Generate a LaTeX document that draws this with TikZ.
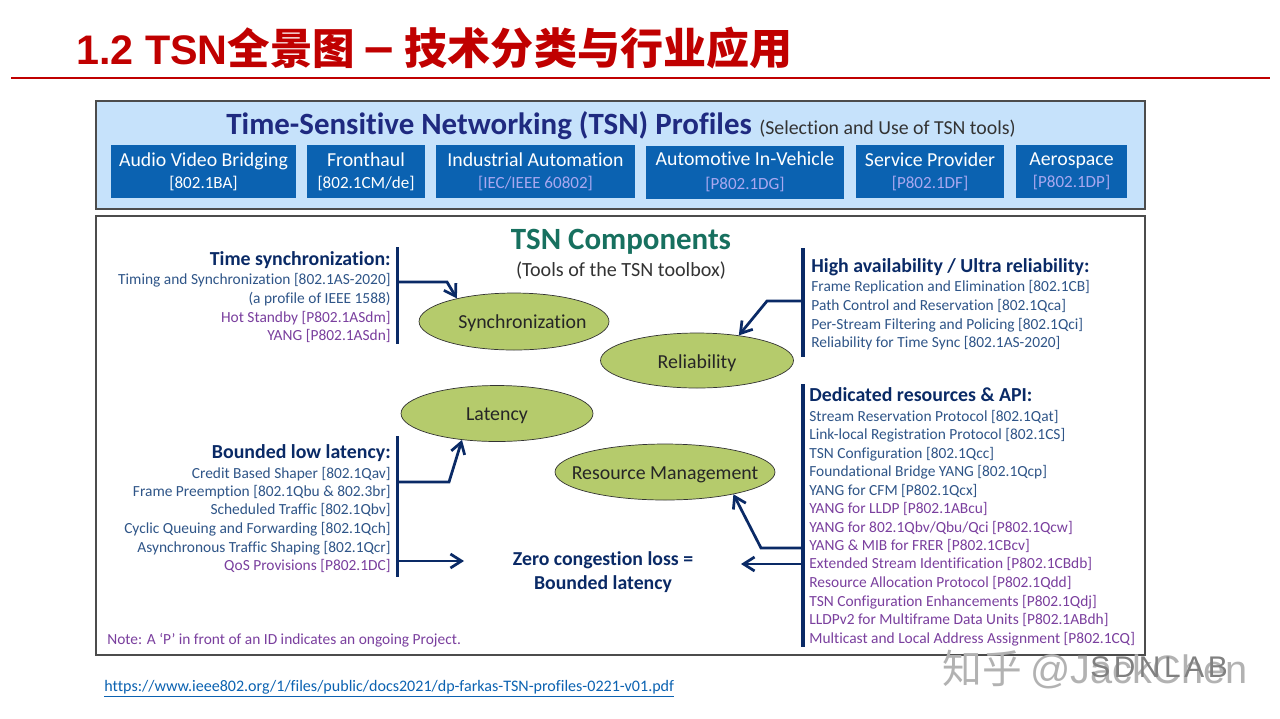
\documentclass[tikz,border=0pt]{standalone}
\usepackage{fontspec}
\usetikzlibrary{shapes.geometric,arrows.meta}
\setmainfont[Ligatures=NoCommon]{Carlito}
\newfontfamily\titlefont{Liberation Sans}
\newfontfamily\cjkfont{Noto Sans CJK SC}
\definecolor{titlered}{HTML}{C00000}
\definecolor{panelblue}{HTML}{C6E2FB}
\definecolor{boxblue}{HTML}{0B62B1}
\definecolor{headblue}{HTML}{1F2A80}
\definecolor{navy}{HTML}{0A2A66}
\definecolor{itemblue}{HTML}{2F5588}
\definecolor{itempurple}{HTML}{7A3F9E}
\definecolor{idlilac}{HTML}{A9A8F0}
\definecolor{ovalgreen}{HTML}{B5CB6C}
\definecolor{compgreen}{HTML}{17705F}
\newcommand{\idfont}{\fontsize{9.7}{12}\selectfont}
\tikzset{
	panel/.style={draw=black!70, line width=0.3mm},
	profile/.style={fill=boxblue, text=white, inner sep=0, align=center, font=\fontsize{11.27}{13.5}\selectfont, execute at begin node={\rule{0pt}{12.3pt}}},
	oval/.style={ellipse, draw=black!80, fill=ovalgreen, inner sep=0},
	ovaltext/.style={inner sep=0, text=black!85, font=\fontsize{11.3}{13}\selectfont},
	item/.style={inner sep=0, font=\fontsize{8.78}{10}\selectfont, text=itemblue},
	head/.style={inner sep=0, font=\fontsize{11.3}{13}\selectfont\bfseries, text=navy},
	bar/.style={line width=0.65mm, color=navy},
	link/.style={line width=0.55mm, color=navy, -{Straight Barb[length=2.2mm, width=2.8mm]}}
}

\begin{document}
\begin{tikzpicture}[x=0.02cm, y=-0.02cm]
	%%%%% TITLE %%%%%
	\useasboundingbox (0, 0) rectangle (1280, 718);
	\node[inner sep=0, anchor=west, text=titlered, font=\fontsize{23.5}{28}\selectfont\bfseries] (title) at (76, 48) {\titlefont 1.2 TSN{\fontsize{24.2}{28}\selectfont\cjkfont 全景图}\hspace{5pt}{\fontsize{30}{28}\selectfont –}\hspace{6.5pt}{\fontsize{24.5}{28}\selectfont\cjkfont 技术分类与行业应用}};
	\draw[line width=0.5mm, color=titlered] (11, 78) -- (1270, 78);

	%%%%% PROFILES %%%%%
	\draw[panel, fill=panelblue] (96, 101) rectangle (1145, 209);
	\node[inner sep=0, anchor=base west, text=headblue, font=\fontsize{17.6}{20}\selectfont\bfseries] (profiles) at (226, 134) {Time-Sensitive Networking (TSN) Profiles};
	\node[inner sep=0, anchor=base west, text=black!80, font=\fontsize{11.27}{13}\selectfont] (profilesnote) at (759, 134) {(Selection and Use of TSN tools)};

	\node[profile, minimum width=3.72cm, minimum height=1.06cm] (avb) at (203.5, 171.5) {Audio Video Bridging\\[-1pt]{\idfont [802.1BA]}};
	\node[profile, minimum width=2.36cm, minimum height=1.06cm] (fronthaul) at (366, 171.5) {Fronthaul\\[-1pt]{\idfont [802.1CM/de]}};
	\node[profile, minimum width=3.98cm, minimum height=1.06cm] (industrial) at (535.5, 171.5) {Industrial Automation\\[-1pt]{\idfont\color{idlilac}[IEC/IEEE 60802]}};
	\node[profile, minimum width=3.96cm, minimum height=1.06cm] (automotive) at (745, 172) {Automotive In-Vehicle\\[0pt]{\idfont\color{idlilac}[P802.1DG]}};
	\node[profile, minimum width=2.96cm, minimum height=1.06cm] (provider) at (930, 171.5) {Service Provider\\[-1pt]{\idfont\color{idlilac}[P802.1DF]}};
	\node[profile, minimum width=2.22cm, minimum height=1.06cm] (aerospace) at (1071.5, 171.5) {Aerospace\\[-1pt]{\idfont\color{idlilac}[P802.1DP]}};

	%%%%% COMPONENTS %%%%%
	\draw[panel, fill=white] (96, 216) rectangle (1145, 655);
	\node[inner sep=0, text=compgreen, font=\fontsize{17.6}{20}\selectfont\bfseries] (components) at (621, 242) {TSN Components};
	\node[inner sep=0, text=black!80, font=\fontsize{11.45}{13}\selectfont] (toolbox) at (621, 270.5) {(Tools of the TSN toolbox)};

	\node[oval, minimum width=3.8cm, minimum height=1.14cm] (sync) at (514, 321.5) {};
	\node[ovaltext] (synctext) at (522.5, 323) {Synchronization};
	\node[oval, minimum width=3.86cm, minimum height=1.1cm] (reliability) at (697, 360.5) {};
	\node[ovaltext] (reltext) at (697, 363) {Reliability};
	\node[oval, minimum width=3.84cm, minimum height=1.12cm] (latency) at (497, 413.5) {};
	\node[ovaltext] (lattext) at (497, 416) {Latency};
	\node[oval, minimum width=4.4cm, minimum height=1.12cm] (resource) at (665, 472) {};
	\node[ovaltext] (restext) at (665, 474.5) {Resource Management};
	\node[inner sep=0, align=center, text=navy, font=\fontsize{11.25}{13.6}\selectfont\bfseries] (zero) at (603, 572) {Zero congestion loss =\\Bounded latency};

	%%%%% TIME SYNC %%%%%
	\node[head, anchor=base east] (synchead) at (391, 265.5) {Time synchronization:};
	\node[item, anchor=base east] (sync1) at (391, 284.5) {Timing and Synchronization [802.1AS-2020]};
	\node[item, anchor=base east] (sync2) at (391, 303) {(a profile of IEEE 1588)};
	\node[item, anchor=base east, text=itempurple] (sync3) at (391, 322) {Hot Standby [P802.1ASdm]};
	\node[item, anchor=base east, text=itempurple] (sync4) at (391, 340) {YANG [P802.1ASdn]};
	\coordinate (syncbartop) at (397.5, 247);
	\coordinate (syncbarend) at (397.5, 344);
	\coordinate (syncout) at (397.5, 282);
	\coordinate (syncbend) at (447, 282);
	\draw[bar] (syncbartop) -- (syncbarend);
	\draw[link] (syncout) -- (syncbend) -- (sync.158);

	%%%%% RELIABILITY %%%%%
	\node[head, anchor=base west] (relhead) at (811, 272.5) {High availability / Ultra reliability:};
	\node[item, anchor=base west] (rel1) at (811, 291.5) {Frame Replication and Elimination [802.1CB]};
	\node[item, anchor=base west] (rel2) at (811, 310.5) {Path Control and Reservation [802.1Qca]};
	\node[item, anchor=base west] (rel3) at (811, 329.5) {Per-Stream Filtering and Policing [802.1Qci]};
	\node[item, anchor=base west] (rel4) at (811, 347.5) {Reliability for Time Sync [802.1AS-2020]};
	\coordinate (relbartop) at (803, 248);
	\coordinate (relbarend) at (803, 357);
	\coordinate (relout) at (803, 301);
	\coordinate (relbend) at (767, 301);
	\draw[bar] (relbartop) -- (relbarend);
	\draw[link] (relout) -- (relbend) -- (reliability.31);

	%%%%% LATENCY %%%%%
	\node[head, anchor=base east] (lathead) at (391, 458.5) {Bounded low latency:};
	\node[item, anchor=base east] (lat1) at (391, 478.5) {Credit Based Shaper [802.1Qav]};
	\node[item, anchor=base east] (lat2) at (391, 496.5) {Frame Preemption [802.1Qbu \& 802.3br]};
	\node[item, anchor=base east] (lat3) at (391, 514.5) {Scheduled Traffic [802.1Qbv]};
	\node[item, anchor=base east] (lat4) at (391, 533.5) {Cyclic Queuing and Forwarding [802.1Qch]};
	\node[item, anchor=base east] (lat5) at (391, 552.5) {Asynchronous Traffic Shaping [802.1Qcr]};
	\node[item, anchor=base east, text=itempurple] (lat6) at (391, 570.5) {QoS Provisions [P802.1DC]};
	\coordinate (latbartop) at (397.5, 436);
	\coordinate (latbarend) at (397.5, 577);
	\coordinate (latout) at (397.5, 482);
	\coordinate (latbend) at (449, 482);
	\coordinate (latzero) at (397.5, 561);
	\coordinate (latzeroend) at (464, 561);
	\draw[bar] (latbartop) -- (latbarend);
	\draw[link] (latout) -- (latbend) -- (latency.217);
	\draw[link] (latzero) -- (latzeroend);

	%%%%% RESOURCES %%%%%
	\node[head, anchor=base west] (reshead) at (809, 401.5) {Dedicated resources \& API:};
	\foreach \y/\txt/\col [count=\n] in {
		421.5/{Stream Reservation Protocol [802.1Qat]}/itemblue,
		439.5/{Link-local Registration Protocol [802.1CS]}/itemblue,
		458.5/{TSN Configuration [802.1Qcc]}/itemblue,
		476.5/{Foundational Bridge YANG [802.1Qcp]}/itemblue,
		495.5/{YANG for CFM [P802.1Qcx]}/itemblue,
		513.5/{YANG for LLDP [P802.1ABcu]}/itempurple,
		532.5/{YANG for 802.1Qbv/Qbu/Qci [P802.1Qcw]}/itempurple,
		550.5/{YANG \& MIB for FRER [P802.1CBcv]}/itempurple,
		568.5/{Extended Stream Identification [P802.1CBdb]}/itempurple,
		587.5/{Resource Allocation Protocol [P802.1Qdd]}/itempurple,
		606/{TSN Configuration Enhancements [P802.1Qdj]}/itempurple,
		624/{LLDPv2 for Multiframe Data Units [P802.1ABdh]}/itempurple,
		643/{Multicast and Local Address Assignment [P802.1CQ]}/itempurple}
	{
		\node[item, anchor=base west, text=\col] (res\n) at (809, \y) {\txt};
	}
	\coordinate (resbartop) at (803, 384);
	\coordinate (resbarend) at (803, 647);
	\coordinate (resout) at (803, 548);
	\coordinate (resbend) at (761, 548);
	\coordinate (reszero) at (803, 564);
	\coordinate (reszeroend) at (741, 564);
	\draw[bar] (resbartop) -- (resbarend);
	\draw[link] (resout) -- (resbend) -- (resource.-18);
	\draw[link] (reszero) -- (reszeroend);

	%%%%% FOOT %%%%%
	\node[item, anchor=base west, text=itempurple] (note) at (107, 644) {Note: A ‘P’ in front of an ID indicates an ongoing Project.};
	\node[inner sep=0, anchor=base west, text=boxblue, font=\fontsize{9.14}{10}\selectfont] (url) at (104, 691) {\underline{https://www.ieee802.org/1/files/public/docs2021/dp-farkas-TSN-profiles-0221-v01.pdf}};
	\node[inner sep=0, anchor=west, text=black!30, font=\fontsize{22.6}{26}\selectfont] (mark) at (942, 670) {\cjkfont 知乎 \titlefont @JackChen};
	\node[inner sep=0, anchor=west, text=black!50, font=\fontsize{17}{20}\selectfont] (marklab) at (1090, 667) {\titlefont\addfontfeature{LetterSpace=12}SDNLAB};
\end{tikzpicture}
\end{document}
